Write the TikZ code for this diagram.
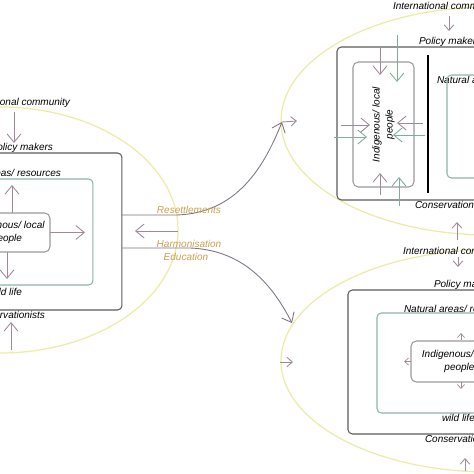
\documentclass[tikz,border=0pt]{standalone}
\usepackage{fontspec}
\setmainfont{Liberation Sans}
\usetikzlibrary{arrows.meta}
\definecolor{boxgray}{HTML}{5C5C5C}
\definecolor{areagreen}{HTML}{8DB3A6}
\definecolor{innergray}{HTML}{9A9A9A}
\definecolor{mauve}{HTML}{A08A9A}
\definecolor{armgreen}{HTML}{7FAE98}
\definecolor{ringyellow}{HTML}{ECECA6}
\definecolor{labelgold}{HTML}{C9A04E}
\definecolor{curvegray}{HTML}{7E7486}
\begin{document}
\begin{tikzpicture}[
		x=0.02cm, y=-0.02cm,
		every node/.style={font=\fontsize{5.7}{7.3}\selectfont\itshape, inner sep=0pt, outer sep=0pt},
		ring/.style={draw=ringyellow, line width=0.7pt},
		bigbox/.style={draw=boxgray, line width=0.6pt, rounded corners=2.5pt, anchor=north west},
		areabox/.style={draw=areagreen, line width=0.6pt, rounded corners=2.5pt, anchor=north west},
		peoplebox/.style={draw=innergray, line width=0.6pt, rounded corners=3pt, align=center},
		marr/.style={draw=mauve, line width=0.5pt, -{Straight Barb[length=1.7mm,width=2.8mm]}},
		garr/.style={draw=armgreen, line width=0.5pt, -{Straight Barb[length=1.7mm,width=2.8mm]}},
		smarr/.style={draw=mauve, line width=0.5pt, -{Straight Barb[length=1.1mm,width=1.9mm]}},
		tinyarr/.style={draw=mauve, line width=0.4pt, -{Straight Barb[length=0.8mm,width=1.4mm]}},
		curve/.style={draw=curvegray, line width=0.5pt, -{Straight Barb[length=1.7mm,width=2.8mm]}},
		gold/.style={text=labelgold}
	]
	\useasboundingbox (0,0) rectangle (474,474);
	\clip (0,0) rectangle (474,474);
	\fill[white] (0,0) rectangle (474,474);

	% rings
	\draw[ring] (0,230) ellipse [x radius=178, y radius=123];
	\draw[ring] (490,121) ellipse [x radius=209, y radius=114];
	\draw[ring] (490,361) ellipse [x radius=209, y radius=111];

	% left: today
	\node[anchor=east] (lintl) at (70,103) {International community};
	\node[anchor=east] (lpolicy) at (53,148) {Policy makers};
	\node[bigbox, minimum width=4.04cm, minimum height=3.14cm] (lbig) at (-80,153) {};
	\node[anchor=east] (lnature) at (61,173) {Natural areas/ resources};
	\node[areabox, minimum width=3.06cm, minimum height=2.12cm] (larea) at (-60,179) {};
	\node[peoplebox, minimum width=1.72cm, minimum height=0.78cm] (lpeople) at (7,232.5) {Indigenous/ local\\people};
	\node[anchor=east] (lwild) at (22,292) {wild life};
	\node[anchor=east] (lcons) at (45,315) {Conservationists};
	\draw[marr] (14,112) -- (14,143);
	\draw[marr] (12,213) -- (12,185);
	\draw[marr] (lpeople.east) -- ++(35,0);
	\draw[marr] (lpeople.south) -- ++(0,27);
	\draw[marr] (11,350) -- (11,322);

	% ways out
	\coordinate (resend) at (282,122);
	\coordinate (harmend) at (292,323);
	\draw[curve] ([yshift=0.33cm]lbig.east) -- ++(55,0) .. controls +(60,-2) and +(-18,45) .. (resend);
	\draw[curve] ([yshift=-0.33cm]lbig.east) -- ++(68,0) .. controls +(50,2) and +(-22,-43) .. (harmend);
	\draw[marr] (178,231) -- (135,231);
	\node[gold] (reset) at (189,210) {Resettlements};
	\node[gold] (harmon) at (189,244) {Harmonisation};
	\node[gold] (educ) at (186,257) {Education};
	\draw[smarr] (resend) -- ++(15,-1);
	\draw[smarr] (280,362) -- (293,362);

	% top right: separated
	\node[anchor=west] (tintl) at (393,7) {International community};
	\node[anchor=west] (tpolicy) at (419,42) {Policy makers};
	\node[bigbox, minimum width=4.46cm, minimum height=3.06cm] (tbig) at (337,47) {};
	\node[peoplebox, minimum width=1.22cm, minimum height=2.5cm] (tpeople) at (383.5,124.5) {};
	\node[rotate=90, align=center] (tpeopletext) at (tpeople.center) {Indigenous/ local\\people};
	\draw[line width=1.7pt] (428,55) -- (428,193);
	\node[anchor=west] (tnature) at (437,80) {Natural areas/ resources};
	\node[areabox, minimum width=2.26cm, minimum height=2.06cm] (tarea) at (447,75) {};
	\node[anchor=west] (tcons) at (415,205) {Conservationists};
	\draw[smarr] (449,16) -- (449,31);
	\draw[marr] (380,47) -- (380,75);
	\draw[garr] (397,35) -- (397,82);
	\draw[marr] (341,125) -- (370,125);
	\draw[garr] (334,137) -- (367,137);
	\draw[marr] (423,123) -- (397,123);
	\draw[garr] (425,135) -- (393,135);
	\draw[marr] (380,195) -- (380,173);
	\draw[garr] (399,206) -- (399,177);
	\draw[smarr] (457,240) -- (457,222);

	% bottom right: together
	\node[anchor=west] (bintl) at (403,252) {International community};
	\node[anchor=west] (bpolicy) at (434,285) {Policy makers};
	\node[bigbox, minimum width=4.24cm, minimum height=2.88cm] (bbig) at (348,290) {};
	\node[anchor=west] (bnature) at (404,309) {Natural areas/ resources};
	\node[areabox, minimum width=3.66cm, minimum height=2.0cm] (barea) at (377,313) {};
	\node[peoplebox, minimum width=1.94cm, minimum height=0.82cm] (bpeople) at (459.5,361.5) {Indigenous/ local\\people};
	\node[anchor=west] (bwild) at (442,418) {wild life};
	\node[anchor=west] (bcons) at (425,439) {Conservationists};
	\draw[smarr] (458,257) -- (458,267);
	\draw[tinyarr] (461,340) -- (461,333);
	\draw[tinyarr] (bpeople.west) -- ++(-7,0);
	\draw[tinyarr] (461,382) -- (461,389);
	\draw[smarr] (465,471) -- (465,458);
\end{tikzpicture}
\end{document}
